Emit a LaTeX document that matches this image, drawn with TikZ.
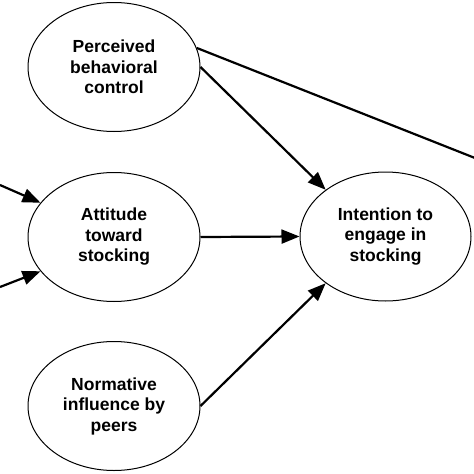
\documentclass[tikz,border=0pt]{standalone}
\usepackage{fontspec}
\setmainfont{Liberation Sans}
\usetikzlibrary{shapes.geometric,arrows.meta}
\begin{document}
\begin{tikzpicture}[x=1pt,y=-1pt,
  factor/.style={draw,ellipse,line width=1pt,
    minimum width=172pt,minimum height=129pt,inner sep=0pt,
    align=center,font=\fontsize{17.5}{20.5}\selectfont\bfseries},
  effect/.style={line width=2.2pt,-{Triangle[length=18pt,width=14pt]}}]

\useasboundingbox (0,0) rectangle (474,474);
\clip (0,0) rectangle (474,474);

% Construits
\node[factor] (perceived) at (114,67) {Perceived\\behavioral\\control};
\node[factor] (attitude) at (114,237) {Attitude\\toward\\stocking};
\node[factor] (normative) at (114,406) {Normative\\influence by\\peers};
\node[factor,minimum width=171pt] (intention) at (385.5,236.5)
  {Intention to\\engage in\\stocking};

% Bords de la figure
\coordinate (inTop) at (0,185);
\coordinate (inBottom) at (0,287);
\coordinate (outRight) at (480,160);

% Liens
\draw[effect] (inTop) -- (attitude.155);
\draw[effect] (inBottom) -- (attitude.205);

\draw[effect] (perceived.east) -- (intention.142);
\draw[effect] (attitude.east) -- (intention.west);
\draw[effect] (normative.east) -- (intention.218);

\draw[line width=2.2pt] (perceived.13) -- (outRight);

\end{tikzpicture}
\end{document}
